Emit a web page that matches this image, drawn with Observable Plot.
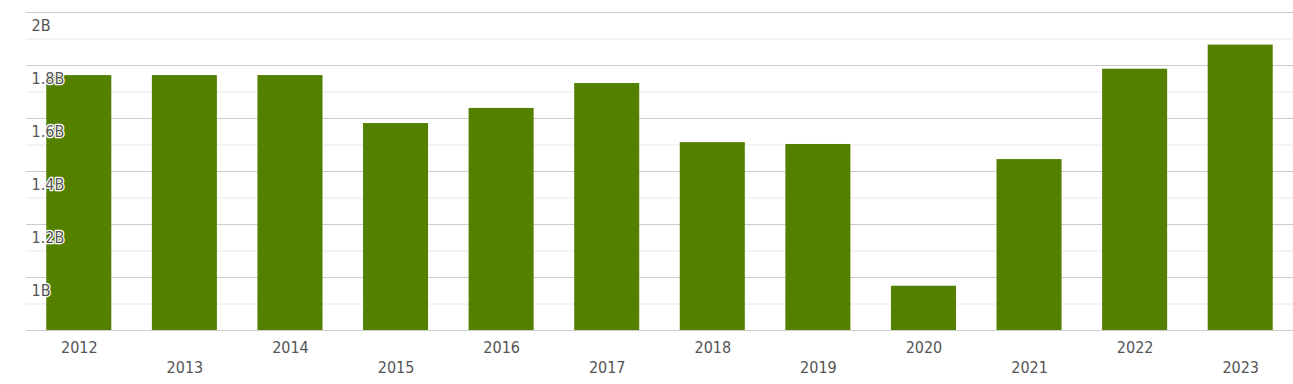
<!DOCTYPE html>
<html>
<head>
<meta charset="utf-8">
<script src="https://cdn.jsdelivr.net/npm/d3@7"></script>
<script src="https://cdn.jsdelivr.net/npm/@observablehq/plot@0.6"></script>
<style>
  html, body { margin: 0; padding: 0; background: #fff; }
  #chart svg { display: block; }
</style>
</head>
<body>
<div id="chart"></div>
<script>
const years = ["2012","2013","2014","2015","2016","2017","2018","2019","2020","2021","2022","2023"];
const values = [1.762e9, 1.762e9, 1.762e9, 1.581e9, 1.638e9, 1.732e9, 1.509e9, 1.502e9, 0.967e9, 1.445e9, 1.786e9, 1.877e9];
const yMin = 0.8e9, yMax = 2e9;
const majorTicks = [1.0e9, 1.2e9, 1.4e9, 1.6e9, 1.8e9, 2.0e9];
const majorLabels = ["1B", "1.2B", "1.4B", "1.6B", "1.8B", "2B"];
const minorTicks = [0.9e9, 1.1e9, 1.3e9, 1.5e9, 1.7e9, 1.9e9];

const data = years.map((year, i) => ({year, value: values[i]}));
const evenYears = years.filter((_, i) => i % 2 === 0);
const oddYears = years.filter((_, i) => i % 2 === 1);
const labelData = majorTicks.map((v, i) => ({v, label: majorLabels[i]}));

const chart = Plot.plot({
  width: 1293,
  height: 384,
  marginLeft: 26,
  marginRight: 0,
  marginTop: 12,
  marginBottom: 54,
  style: {fontFamily: "'DejaVu Sans Condensed', 'DejaVu Sans', sans-serif", fontStretch: "condensed", color: "#555", background: "#fff"},
  x: {type: "band", domain: years, paddingInner: 0.384, paddingOuter: 0.192, round: false, axis: null},
  y: {domain: [yMin, yMax], axis: null},
  marks: [
    Plot.ruleY(minorTicks, {stroke: "#e8e8e8", strokeWidth: 1}),
    Plot.ruleY(majorTicks, {stroke: "#cccccc", strokeWidth: 1}),
    Plot.barY(data, {x: "year", y1: () => yMin, y2: "value", fill: "#548000"}),
    Plot.ruleY([yMin], {stroke: "#cccccc", strokeWidth: 1}),
    Plot.text(labelData, {
      y: "v", text: "label", frameAnchor: "left", textAnchor: "start",
      dx: 5, dy: 13, fontSize: 16, fill: "#555", stroke: "white", strokeWidth: 2.5
    }),
    Plot.axisX(evenYears, {tickSize: 0, tickPadding: 11, fontSize: 16, fill: "#555", label: null}),
    Plot.axisX(oddYears, {tickSize: 0, tickPadding: 31, fontSize: 16, fill: "#555", label: null})
  ]
});
document.getElementById("chart").appendChild(chart);
</script>
</body>
</html>
